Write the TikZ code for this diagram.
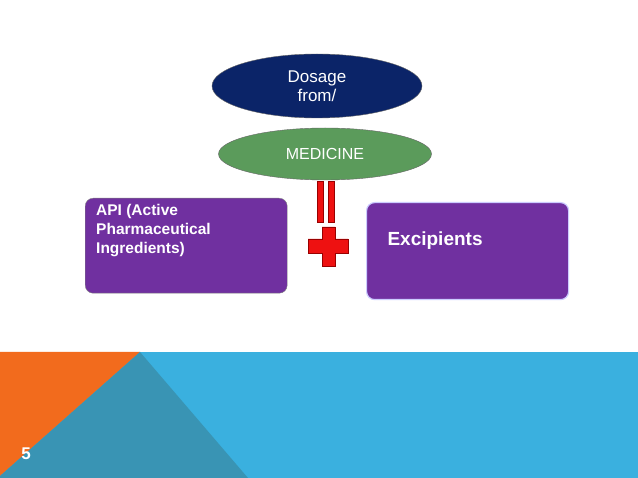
\documentclass[tikz,border=0pt]{standalone}
\usepackage{fontspec}
\setmainfont{Liberation Sans}
\usetikzlibrary{shapes.geometric}
\definecolor{navy}{HTML}{0B2468}
\definecolor{medgreen}{HTML}{5B9B5B}
\definecolor{boxpurple}{HTML}{7030A0}
\definecolor{bandblue}{HTML}{3AB0DF}
\definecolor{bandteal}{HTML}{3994B4}
\definecolor{bandorange}{HTML}{F26B1D}
\definecolor{crossred}{HTML}{EE1111}

\begin{document}
\begin{tikzpicture}[
    x = 1pt, y = -1pt,
    oval/.style = {draw = black!60, ellipse, text = white, font = \fontsize{17}{19}\selectfont,
                   align = center, inner sep = 0pt},
    box/.style = {draw = black!50, fill = boxpurple, rounded corners = 8pt, text = white,
                  font = \bfseries\fontsize{15.5}{19}\selectfont, align = left},
    redbar/.style = {fill = crossred, draw = red!60!black, line width = 0.4pt}
  ]
  \useasboundingbox[fill = white] (0,0) rectangle (638,478);

  % bottom band
  \fill[bandblue] (0,352) rectangle (638,478);
  \fill[bandorange] (0,352) -- (140,352) -- (0,476) -- cycle;
  \fill[bandteal] (140,352) -- (248,478) -- (0,478) -- (0,476) -- cycle;
  \node[text = white, font = \bfseries\fontsize{17}{19}\selectfont] (num) at (26,454) {5};

  % ellipses
  \node[oval, fill = navy, minimum width = 210pt, minimum height = 64pt] (dosage) at (317,86)
    {Dosage\\from/};
  \node[oval, fill = medgreen, minimum width = 213pt, minimum height = 52pt,
        font = \fontsize{16}{19}\selectfont] (medicine) at (325,154) {MEDICINE};

  % boxes
  \node[box, minimum width = 202pt, minimum height = 95pt, anchor = north west,
        inner sep = 0pt] (api) at (85,198) {};
  \node[anchor = north west, text = white, font = \bfseries\fontsize{15.5}{19}\selectfont,
        align = left, inner sep = 0pt] (apitext) at (96,204)
    {API (Active\\Pharmaceutical\\Ingredients)};
  \node[box, draw = blue!20, line width = 1.2pt, minimum width = 202pt, minimum height = 97pt,
        anchor = north west] (excip) at (366,202) {};
  \node[text = white, font = \bfseries\fontsize{19}{22}\selectfont, anchor = west]
    (exciptext) at (384,241) {Excipients};

  % equals and plus
  \draw[redbar] (317,181) rectangle (323,222);
  \draw[redbar] (328,181) rectangle (334,222);
  \draw[redbar] (322,227) -- (335,227) -- (335,239) -- (348,239) -- (348,253) -- (335,253)
    -- (335,266) -- (322,266) -- (322,253) -- (308,253) -- (308,239) -- (322,239) -- cycle;
\end{tikzpicture}
\end{document}
